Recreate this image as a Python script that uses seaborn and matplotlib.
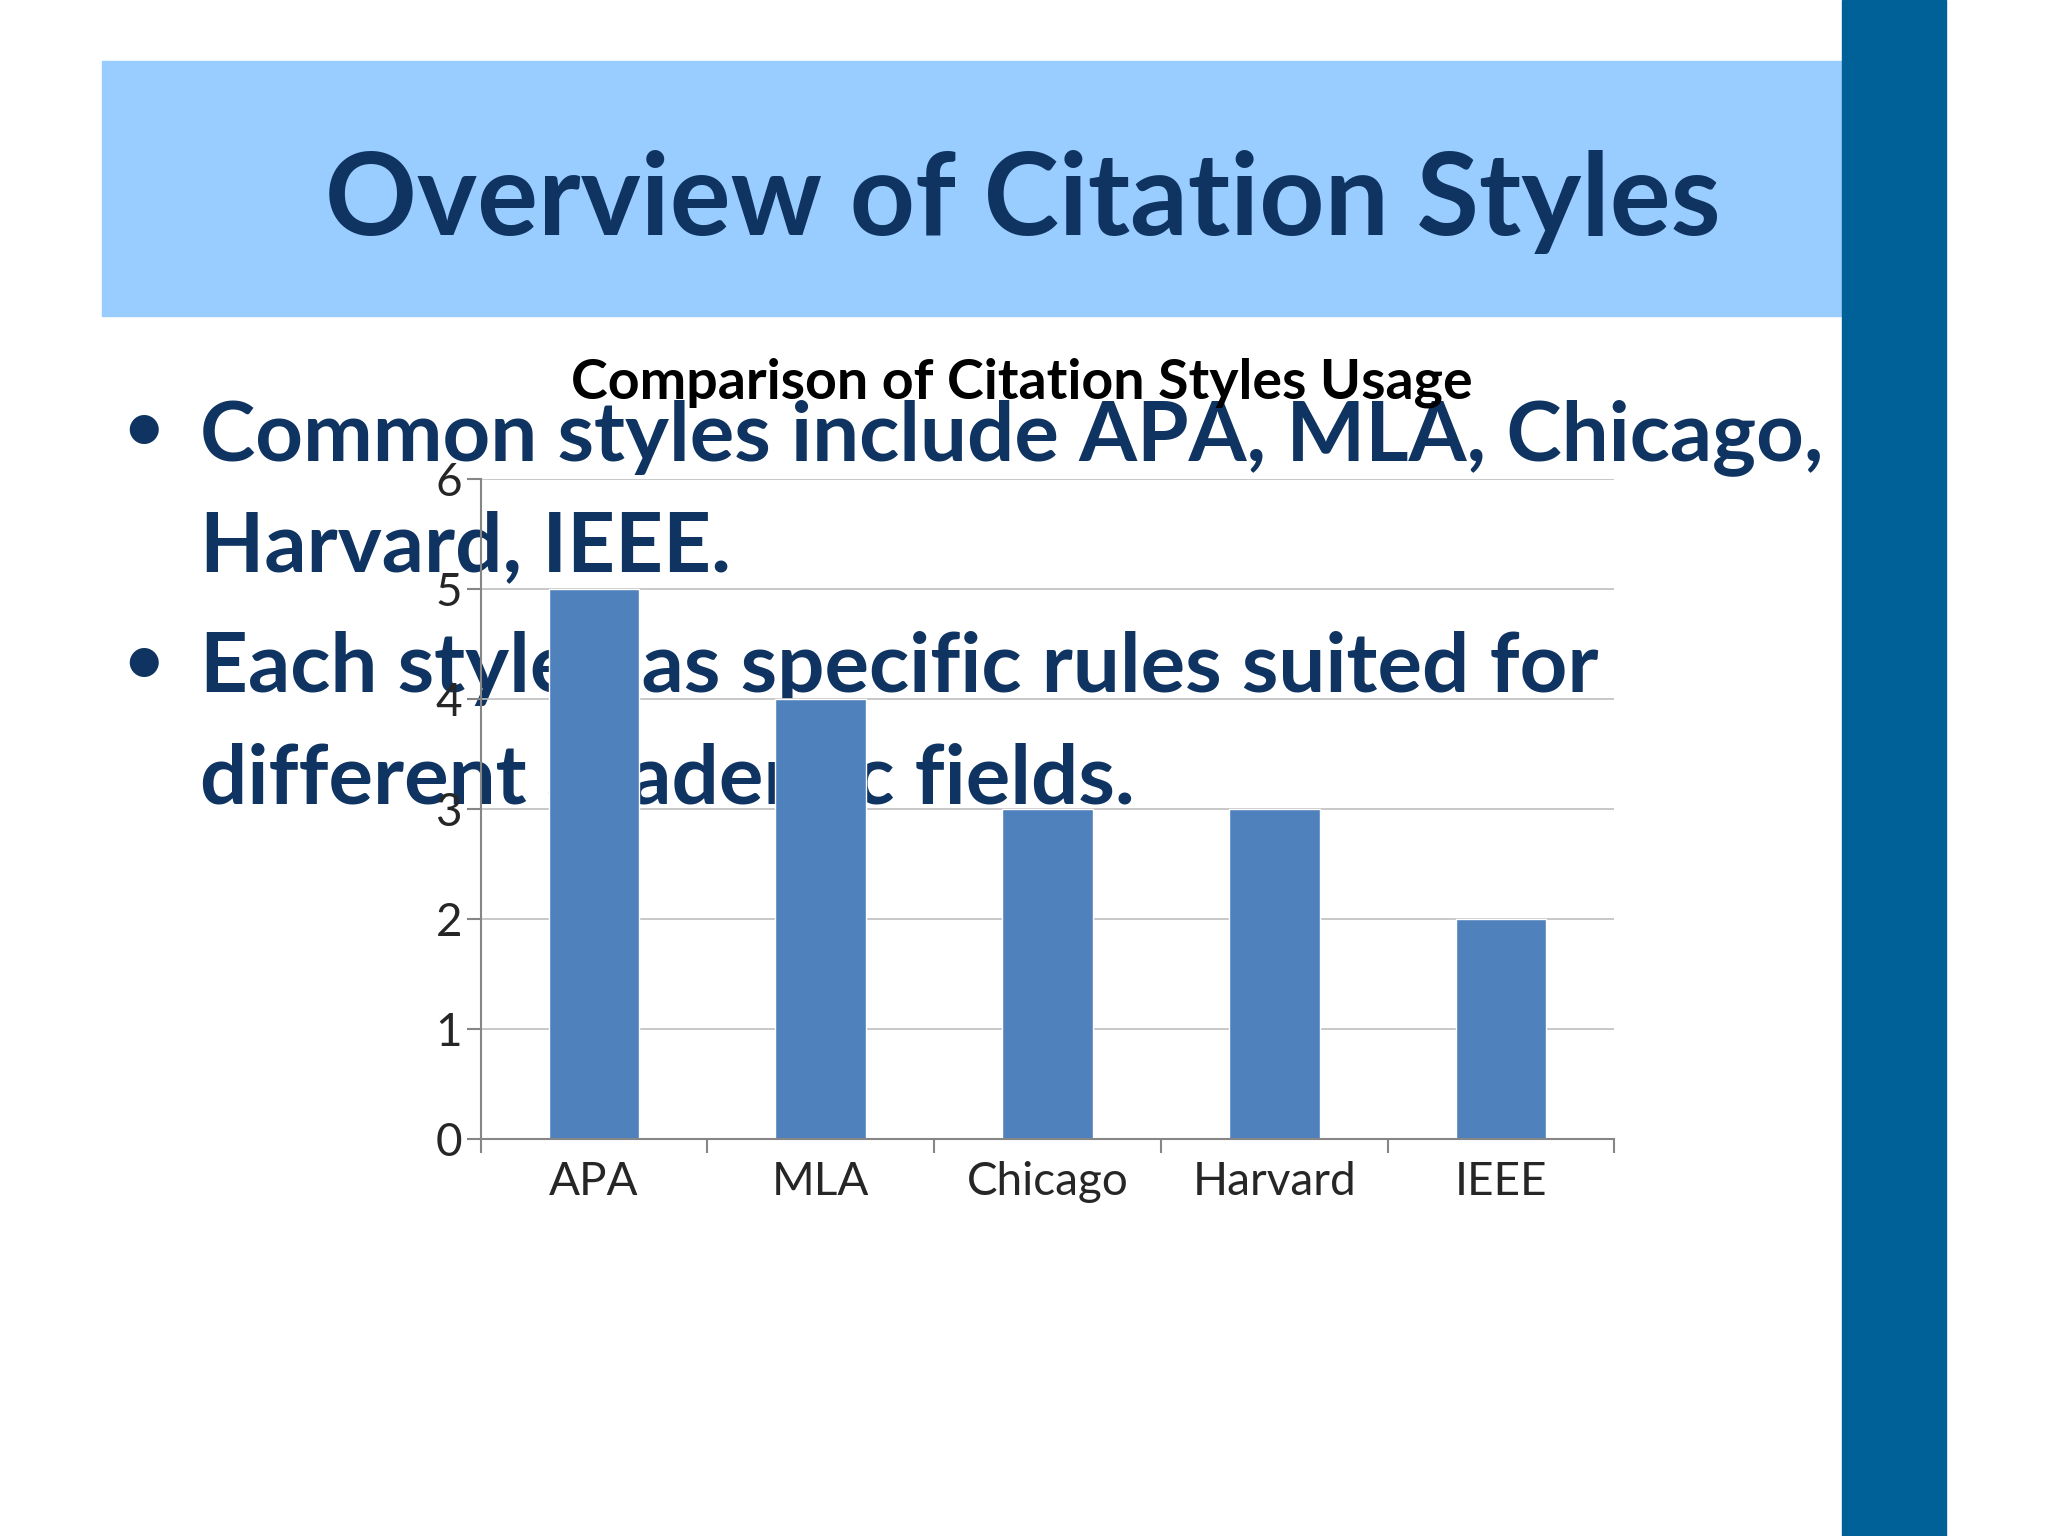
import matplotlib
matplotlib.use("Agg")
import matplotlib.pyplot as plt
import seaborn as sns
import pandas as pd
from matplotlib.patches import Rectangle

styles = ["APA", "MLA", "Chicago", "Harvard", "IEEE"]
usage = [5, 4, 3, 3, 2]
yticks = [0, 1, 2, 3, 4, 5, 6]

sns.set_theme(style="white")
plt.rcParams['font.family'] = ['Lato', 'DejaVu Sans']

W, H = 1568, 1176
navy = "#0F3461"
fig = plt.figure(figsize=(20.48, 15.36), dpi=100)
fig.patches.append(Rectangle((78/W, 1-242/H), (1410-78)/W, (242-47)/H, transform=fig.transFigure, color="#99CCFF", zorder=0))
fig.patches.append(Rectangle((1410/W, 0), 80/W, 1, transform=fig.transFigure, color="#006199", zorder=0))
fig.text(783/W, 1-155/H, "Overview of Citation Styles", ha="center", va="center", fontsize=82, fontweight="bold", color=navy)

lines = [(352, "Common styles include APA, MLA, Chicago,", True),
         (437, "Harvard, IEEE.", False),
         (530, "Each style has specific rules suited for", True),
         (615, "different academic fields.", False)]
for y, t, b in lines:
    fig.text(153/W, 1-y/H, t, ha="left", va="baseline", fontsize=60, fontweight="bold", color=navy, zorder=-1)
    if b:
        fig.text(95/W, 1-(y-8)/H, "•", ha="left", va="baseline", fontsize=48, fontweight="bold", color=navy, zorder=-1)

ax = fig.add_axes([368/W, 1-872/H, (1236-368)/W, (872-367)/H], zorder=2)
ax.patch.set_alpha(0)
df = pd.DataFrame({"style": styles, "usage": usage})
sns.barplot(data=df, x="style", y="usage", color="#4F81BD", saturation=1, width=0.4, ax=ax)
ax.set_ylim(0, 6)
ax.set_yticks(yticks)
ax.yaxis.grid(True, color="#BFBFBF", linewidth=1.2)
ax.set_axisbelow(True)
ax.set_xlabel(""); ax.set_ylabel("")
for s in ["top", "right"]:
    ax.spines[s].set_visible(False)
for s in ["left", "bottom"]:
    ax.spines[s].set_color("#868686"); ax.spines[s].set_linewidth(1.5)
ax.set_xticks([-0.5, 0.5, 1.5, 2.5, 3.5, 4.5], minor=True)
ax.tick_params(axis="x", which="minor", length=10, color="#868686", width=1.5, bottom=True)
ax.tick_params(axis="x", which="major", length=0, labelsize=33, pad=16)
ax.tick_params(axis="y", length=10, color="#868686", width=1.5, left=True, labelsize=33)
ax.set_xlim(-0.5, 4.5)
fig.text(782/W, 1-293/H, "Comparison of Citation Styles Usage", ha="center", va="center", fontsize=40, fontweight="bold", color="black", zorder=5)

fig.savefig("out.png", dpi=100)
